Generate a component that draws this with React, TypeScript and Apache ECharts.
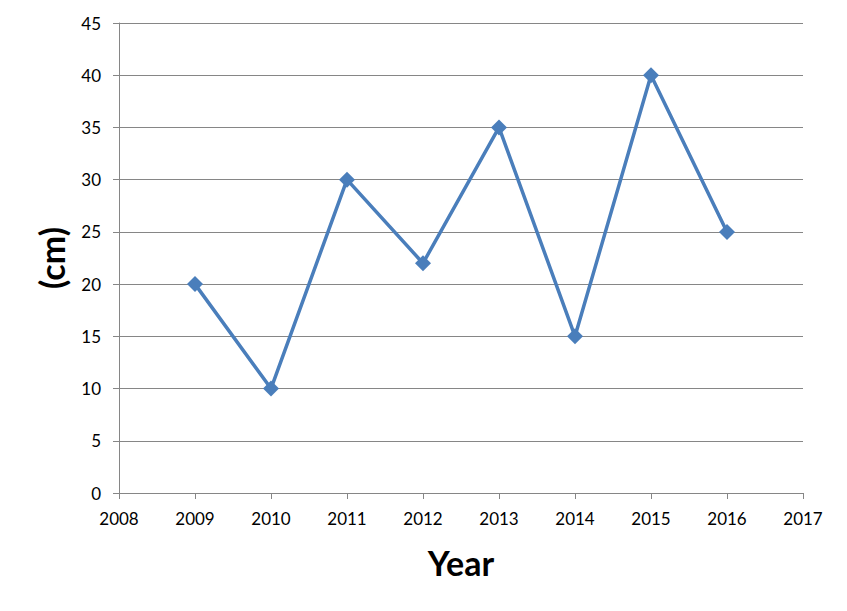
import { useEffect, useRef } from "react";
import * as echarts from "echarts";

const years = [2009, 2010, 2011, 2012, 2013, 2014, 2015, 2016];
const heights = [20, 10, 30, 22, 35, 15, 40, 25];
const xTitle = "Year";
const yTitle = "(cm)";

const FONT = "Lato, 'Open Sans', sans-serif";
const GRAY = "#868686";

const App: React.FC = () => {
	const chartRef = useRef<HTMLDivElement>(null);

	useEffect(() => {
		if (!chartRef.current) return;
		const chart = echarts.init(chartRef.current, undefined, { renderer: "svg" });

		const option = {
			animation: false,
			backgroundColor: "#ffffff",
			grid: { left: 119, right: 44, top: 23, bottom: 118 },
			xAxis: {
				type: "value",
				min: 2008,
				max: 2017,
				interval: 1,
				name: xTitle,
				nameLocation: "middle",
				nameGap: 52,
				nameTextStyle: { fontFamily: FONT, fontSize: 34, fontWeight: "bold", color: "#000" },
				axisLine: { show: true, lineStyle: { color: GRAY } },
				axisTick: { show: true, length: 6, lineStyle: { color: GRAY } },
				axisLabel: { formatter: (v: number) => String(v), fontFamily: FONT, fontSize: 17, color: "#000", margin: 17 },
				splitLine: { show: false },
			},
			yAxis: {
				type: "value",
				min: 0,
				max: 45,
				interval: 5,
				name: yTitle,
				nameLocation: "middle",
				nameGap: 51,
				nameTextStyle: { fontFamily: FONT, fontSize: 34, fontWeight: "bold", color: "#000" },
				axisLine: { show: true, lineStyle: { color: GRAY } },
				axisTick: { show: true, length: 6, lineStyle: { color: GRAY } },
				axisLabel: { fontFamily: FONT, fontSize: 17, color: "#000", margin: 18 },
				splitLine: { show: true, lineStyle: { color: GRAY, width: 1 } },
			},
			series: [
				{
					type: "line",
					data: years.map((y, i) => [y, heights[i]]),
					symbol: "diamond",
					symbolSize: 16,
					lineStyle: { color: "#4a7ebb", width: 3.5 },
					itemStyle: { color: "#4a7ebb" },
				},
			],
		};

		chart.setOption(option);
		return () => chart.dispose();
	}, []);

	return <div ref={chartRef} style={{ position: "absolute", left: 0, top: 0, width: 847, height: 611 }} />;
};

export default App;
